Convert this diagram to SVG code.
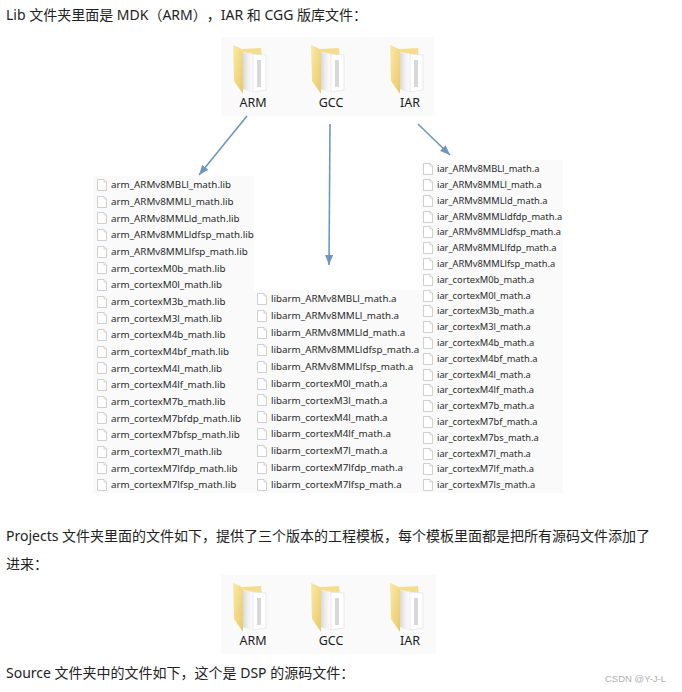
<svg xmlns="http://www.w3.org/2000/svg" width="682" height="692" viewBox="0 0 682 692">
<style>
text{font-family:"Noto Sans","Noto Sans CJK SC",sans-serif;fill:#222;text-spacing-trim:space-all}
.p{font-size:14px}
.f{font-size:12.5px;text-anchor:middle;fill:#1a1a1a}
.a{font-size:9.8px;fill:#2a2a2a}
#list-iar .a{font-size:9.3px}
.w{font-size:9.5px;fill:#b0b0b0;font-family:"Liberation Sans",sans-serif}
.panel{fill:#fafafa}
.c{stroke:#6e97c0;stroke-width:1.6;fill:none;marker-end:url(#h)}
</style>
<defs>
<marker id="h" markerUnits="userSpaceOnUse" markerWidth="12" markerHeight="10" refX="10" refY="4" orient="auto"><path d="M0 0L10 4L0 8z" fill="#6e97c0"/></marker>
<linearGradient id="fg" x1="0" x2="1" y1="0" y2="1"><stop offset="0" stop-color="#fbeaa8"/><stop offset="1" stop-color="#e8c968"/></linearGradient>
<linearGradient id="pg" x1="0" x2="1" y1="0" y2="0"><stop offset="0" stop-color="#cfcfcf"/><stop offset=".5" stop-color="#ececec"/><stop offset="1" stop-color="#fff"/></linearGradient>
<symbol id="folder" width="35" height="50" viewBox="0 0 35 50" overflow="visible">
<path d="M0 0L9 4L28 3L29 14L10 14z" fill="#f5dd90"/>
<path d="M8 7L20 9V47L8 44z" fill="url(#pg)" stroke="#f0f0f0" stroke-width=".7"/>
<path d="M20 9L33 10V45L20 47z" fill="#fff" stroke="#ddd" stroke-width=".6"/>
<rect x="24" y="15" width="4" height="27" fill="#d8d8d8"/>
<path d="M0 0L10 7V49L1 36z" fill="url(#fg)"/>
</symbol>
<symbol id="file" width="10" height="12" viewBox="0 0 10 12" overflow="visible">
<path d="M.5.5H7L9.5 3V11.5H.5z" fill="#fff" stroke="#c4c4c4" stroke-width=".8"/>
<path d="M7 .5V3H9.5" fill="#f0f0f0" stroke="#c4c4c4" stroke-width=".6"/>
</symbol>
</defs>
<rect width="682" height="692" fill="#fff"/>
<g id="text-blocks">
<text class="p" x="6" y="20">Lib 文件夹里面是 MDK（ARM），IAR 和 CGG 版库文件：</text>
<text class="p" x="6" y="541">Projects 文件夹里面的文件如下，提供了三个版本的工程模板，每个模板里面都是把所有源码文件添加了</text>
<text class="p" x="6" y="569">进来：</text>
<text class="p" x="6" y="678">Source 文件夹中的文件如下，这个是 DSP 的源码文件：</text>
<text class="w" x="605" y="682">CSDN @Y-J-L</text>
</g>
<g id="folders-top">
<rect class="panel" x="221" y="37" width="213" height="79"/>
<g id="top-arm"><use href="#folder" x="233" y="45"/><text class="f" x="253" y="107">ARM</text></g>
<g id="top-gcc"><use href="#folder" x="311" y="45"/><text class="f" x="331" y="107">GCC</text></g>
<g id="top-iar"><use href="#folder" x="390" y="45"/><text class="f" x="410" y="107">IAR</text></g>
</g>
<g id="connectors">
<line class="c" x1="247" y1="116" x2="199" y2="175"/>
<line class="c" x1="330" y1="124" x2="329" y2="265"/>
<line class="c" x1="418" y1="124" x2="450" y2="155"/>
</g>
<g id="list-arm">
<rect class="panel" x="93" y="176" width="161" height="317"/>
<use href="#file" x="97" y="179"/><text class="a" x="111" y="188">arm_ARMv8MBLl_math.lib</text>
<use href="#file" x="97" y="196"/><text class="a" x="111" y="205">arm_ARMv8MMLl_math.lib</text>
<use href="#file" x="97" y="212"/><text class="a" x="111" y="222">arm_ARMv8MMLld_math.lib</text>
<use href="#file" x="97" y="229"/><text class="a" x="111" y="238">arm_ARMv8MMLldfsp_math.lib</text>
<use href="#file" x="97" y="246"/><text class="a" x="111" y="255">arm_ARMv8MMLlfsp_math.lib</text>
<use href="#file" x="97" y="262"/><text class="a" x="111" y="272">arm_cortexM0b_math.lib</text>
<use href="#file" x="97" y="279"/><text class="a" x="111" y="288">arm_cortexM0l_math.lib</text>
<use href="#file" x="97" y="296"/><text class="a" x="111" y="305">arm_cortexM3b_math.lib</text>
<use href="#file" x="97" y="312"/><text class="a" x="111" y="322">arm_cortexM3l_math.lib</text>
<use href="#file" x="97" y="329"/><text class="a" x="111" y="338">arm_cortexM4b_math.lib</text>
<use href="#file" x="97" y="346"/><text class="a" x="111" y="355">arm_cortexM4bf_math.lib</text>
<use href="#file" x="97" y="362"/><text class="a" x="111" y="372">arm_cortexM4l_math.lib</text>
<use href="#file" x="97" y="379"/><text class="a" x="111" y="388">arm_cortexM4lf_math.lib</text>
<use href="#file" x="97" y="396"/><text class="a" x="111" y="405">arm_cortexM7b_math.lib</text>
<use href="#file" x="97" y="412"/><text class="a" x="111" y="422">arm_cortexM7bfdp_math.lib</text>
<use href="#file" x="97" y="429"/><text class="a" x="111" y="438">arm_cortexM7bfsp_math.lib</text>
<use href="#file" x="97" y="446"/><text class="a" x="111" y="455">arm_cortexM7l_math.lib</text>
<use href="#file" x="97" y="462"/><text class="a" x="111" y="472">arm_cortexM7lfdp_math.lib</text>
<use href="#file" x="97" y="479"/><text class="a" x="111" y="488">arm_cortexM7lfsp_math.lib</text>
</g>
<g id="list-gcc">
<rect class="panel" x="253" y="290" width="168" height="203"/>
<use href="#file" x="257" y="293"/><text class="a" x="271" y="302">libarm_ARMv8MBLl_math.a</text>
<use href="#file" x="257" y="310"/><text class="a" x="271" y="319">libarm_ARMv8MMLl_math.a</text>
<use href="#file" x="257" y="327"/><text class="a" x="271" y="336">libarm_ARMv8MMLld_math.a</text>
<use href="#file" x="257" y="344"/><text class="a" x="271" y="353">libarm_ARMv8MMLldfsp_math.a</text>
<use href="#file" x="257" y="361"/><text class="a" x="271" y="370">libarm_ARMv8MMLlfsp_math.a</text>
<use href="#file" x="257" y="378"/><text class="a" x="271" y="387">libarm_cortexM0l_math.a</text>
<use href="#file" x="257" y="394"/><text class="a" x="271" y="404">libarm_cortexM3l_math.a</text>
<use href="#file" x="257" y="411"/><text class="a" x="271" y="421">libarm_cortexM4l_math.a</text>
<use href="#file" x="257" y="428"/><text class="a" x="271" y="437">libarm_cortexM4lf_math.a</text>
<use href="#file" x="257" y="445"/><text class="a" x="271" y="454">libarm_cortexM7l_math.a</text>
<use href="#file" x="257" y="462"/><text class="a" x="271" y="471">libarm_cortexM7lfdp_math.a</text>
<use href="#file" x="257" y="479"/><text class="a" x="271" y="488">libarm_cortexM7lfsp_math.a</text>
</g>
<g id="list-iar">
<rect class="panel" x="421" y="160" width="142" height="333"/>
<use href="#file" x="423" y="163"/><text class="a" x="437" y="172">iar_ARMv8MBLl_math.a</text>
<use href="#file" x="423" y="179"/><text class="a" x="437" y="188">iar_ARMv8MMLl_math.a</text>
<use href="#file" x="423" y="195"/><text class="a" x="437" y="204">iar_ARMv8MMLld_math.a</text>
<use href="#file" x="423" y="211"/><text class="a" x="437" y="220">iar_ARMv8MMLldfdp_math.a</text>
<use href="#file" x="423" y="226"/><text class="a" x="437" y="235">iar_ARMv8MMLldfsp_math.a</text>
<use href="#file" x="423" y="242"/><text class="a" x="437" y="251">iar_ARMv8MMLlfdp_math.a</text>
<use href="#file" x="423" y="258"/><text class="a" x="437" y="267">iar_ARMv8MMLlfsp_math.a</text>
<use href="#file" x="423" y="274"/><text class="a" x="437" y="283">iar_cortexM0b_math.a</text>
<use href="#file" x="423" y="290"/><text class="a" x="437" y="299">iar_cortexM0l_math.a</text>
<use href="#file" x="423" y="305"/><text class="a" x="437" y="314">iar_cortexM3b_math.a</text>
<use href="#file" x="423" y="321"/><text class="a" x="437" y="330">iar_cortexM3l_math.a</text>
<use href="#file" x="423" y="337"/><text class="a" x="437" y="346">iar_cortexM4b_math.a</text>
<use href="#file" x="423" y="353"/><text class="a" x="437" y="362">iar_cortexM4bf_math.a</text>
<use href="#file" x="423" y="369"/><text class="a" x="437" y="378">iar_cortexM4l_math.a</text>
<use href="#file" x="423" y="384"/><text class="a" x="437" y="393">iar_cortexM4lf_math.a</text>
<use href="#file" x="423" y="400"/><text class="a" x="437" y="409">iar_cortexM7b_math.a</text>
<use href="#file" x="423" y="416"/><text class="a" x="437" y="425">iar_cortexM7bf_math.a</text>
<use href="#file" x="423" y="432"/><text class="a" x="437" y="441">iar_cortexM7bs_math.a</text>
<use href="#file" x="423" y="448"/><text class="a" x="437" y="457">iar_cortexM7l_math.a</text>
<use href="#file" x="423" y="463"/><text class="a" x="437" y="472">iar_cortexM7lf_math.a</text>
<use href="#file" x="423" y="479"/><text class="a" x="437" y="488">iar_cortexM7ls_math.a</text>
</g>
<g id="folders-bottom">
<rect class="panel" x="221" y="575" width="215" height="79"/>
<g id="bottom-arm"><use href="#folder" x="233" y="583"/><text class="f" x="253" y="645">ARM</text></g>
<g id="bottom-gcc"><use href="#folder" x="311" y="583"/><text class="f" x="331" y="645">GCC</text></g>
<g id="bottom-iar"><use href="#folder" x="390" y="583"/><text class="f" x="410" y="645">IAR</text></g>
</g>
</svg>
